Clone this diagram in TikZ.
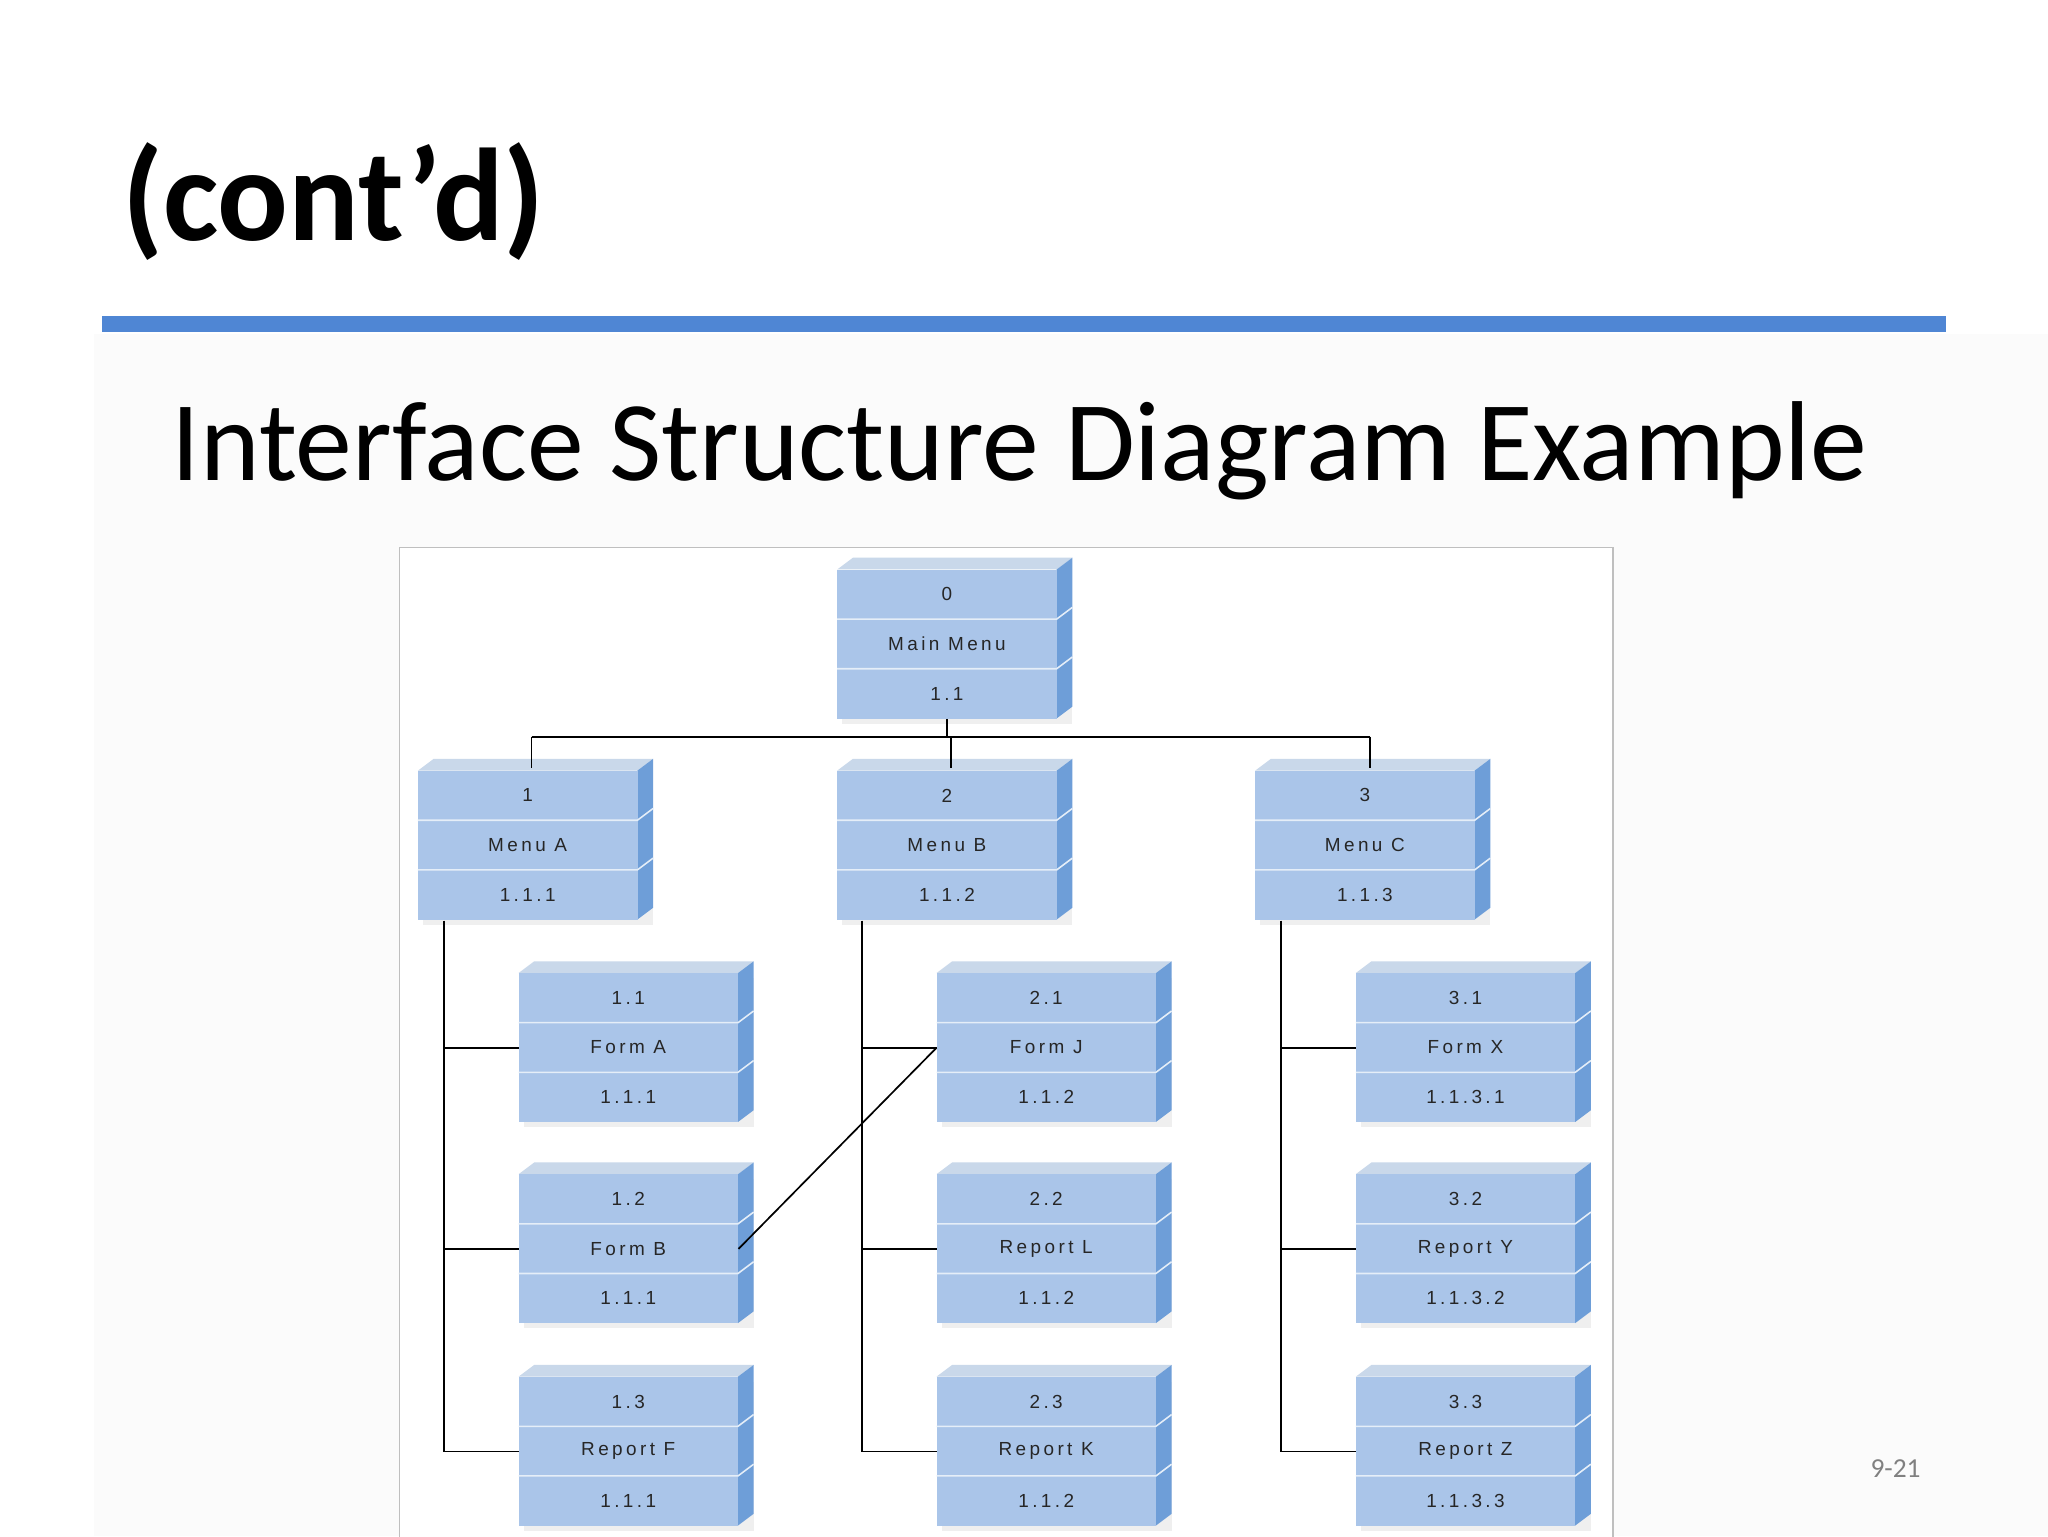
\documentclass[tikz,border=0pt]{standalone}
\usepackage{fontspec}
\setmainfont{Carlito}
\newfontfamily\boxfont{Liberation Sans}[LetterSpace=18]
\begin{document}
\begin{tikzpicture}[x=1pt,y=-1pt,
  face/.style={fill=frontblue,draw=none,minimum width=168pt,minimum height=114pt,inner sep=0pt,anchor=north west},
  lbl/.style={font=\boxfont\fontsize{14.5}{15}\selectfont,text=black!85},
  conn/.style={draw=black,line width=1.3pt}]
\definecolor{frontblue}{HTML}{AAC5E9}
\definecolor{sideblue}{HTML}{6E9ED8}
\definecolor{topblue}{HTML}{C9D8EA}
\definecolor{rule}{HTML}{4F86D4}
\useasboundingbox (0,0) rectangle (1568,1176);
\fill[white] (0,0) rectangle (1568,1176);
\fill[black!1.5] (72,256) rectangle (1568,1176);
\fill[rule] (78,242) rectangle (1490,254);
\node[anchor=base west,font=\bfseries\fontsize{101}{105}\selectfont] (title) at (90,184) {(cont’d)};
\node[anchor=base west,font=\fontsize{87}{92}\selectfont] (sub) at (128,368) {Interface Structure Diagram Example};
\node[anchor=base east,font=\fontsize{21}{22}\selectfont,text=black!50] (pg) at (1474,1131) {9-21};
\fill[white] (306,419) rectangle (1235,1180);
\draw[draw=black!25,line width=1pt] (306,1180) -- (306,419) -- (1235,419) -- (1235,1180);
\newcommand\ibox[6]{%
  \fill[black!10,opacity=.6] (#2+4,#3+4) rectangle (#2+180,#3+118);
  \fill[topblue] (#2,#3) -- (#2+12,#3-9) -- (#2+180,#3-9) -- (#2+168,#3) -- cycle;
  \fill[sideblue] (#2+168,#3) -- (#2+180,#3-9) -- (#2+180,#3+105) -- (#2+168,#3+114) -- cycle;
  \node[face] (#1) at (#2,#3) {};
  \draw[white!70!frontblue,line width=1.2pt] (#2,#3+38) -- (#2+168,#3+38) -- (#2+180,#3+29);
  \draw[white!70!frontblue,line width=1.2pt] (#2,#3+76) -- (#2+168,#3+76) -- (#2+180,#3+67);
  \node[lbl] (#1t) at (#2+84,#3+19) {#4};
  \node[lbl] (#1m) at (#2+84,#3+57) {#5};
  \node[lbl] (#1b) at (#2+84,#3+95) {#6};}
\ibox{main}{641}{436}{0}{Main Menu}{1.1}
\ibox{ma}{320}{590}{1}{Menu A}{1.1.1}
\ibox{mb}{641}{590}{2}{Menu B}{1.1.2}
\ibox{mc}{961}{590}{3}{Menu C}{1.1.3}
\ibox{fa}{397}{745}{1.1}{Form A}{1.1.1}
\ibox{fb}{397}{899}{1.2}{Form B}{1.1.1}
\ibox{rf}{397}{1054}{1.3}{Report F}{1.1.1}
\ibox{fj}{717}{745}{2.1}{Form J}{1.1.2}
\ibox{rl}{717}{899}{2.2}{Report L}{1.1.2}
\ibox{rk}{717}{1054}{2.3}{Report K}{1.1.2}
\ibox{fx}{1038}{745}{3.1}{Form X}{1.1.3.1}
\ibox{ry}{1038}{899}{3.2}{Report Y}{1.1.3.2}
\ibox{rz}{1038}{1054}{3.3}{Report Z}{1.1.3.3}
\draw[conn] (main.south) -- ++(0,14) coordinate (j);
\draw[conn] (407,564) -- (1049,564);
\draw[conn] (407,564) -- (407,588);
\draw[conn] (728,564) -- (728,588);
\draw[conn] (1049,564) -- (1049,588);
\draw[conn] (340,705) |- (fa.west);
\draw[conn] (340,705) |- (fb.west);
\draw[conn] (340,705) |- (rf.west);
\draw[conn] (660,705) |- (fj.west);
\draw[conn] (660,705) |- (rl.west);
\draw[conn] (660,705) |- (rk.west);
\draw[conn] (981,705) |- (fx.west);
\draw[conn] (981,705) |- (ry.west);
\draw[conn] (981,705) |- (rz.west);
\draw[black,line width=1.3pt] (fb.east) -- (fj.west);
\end{tikzpicture}
\end{document}
